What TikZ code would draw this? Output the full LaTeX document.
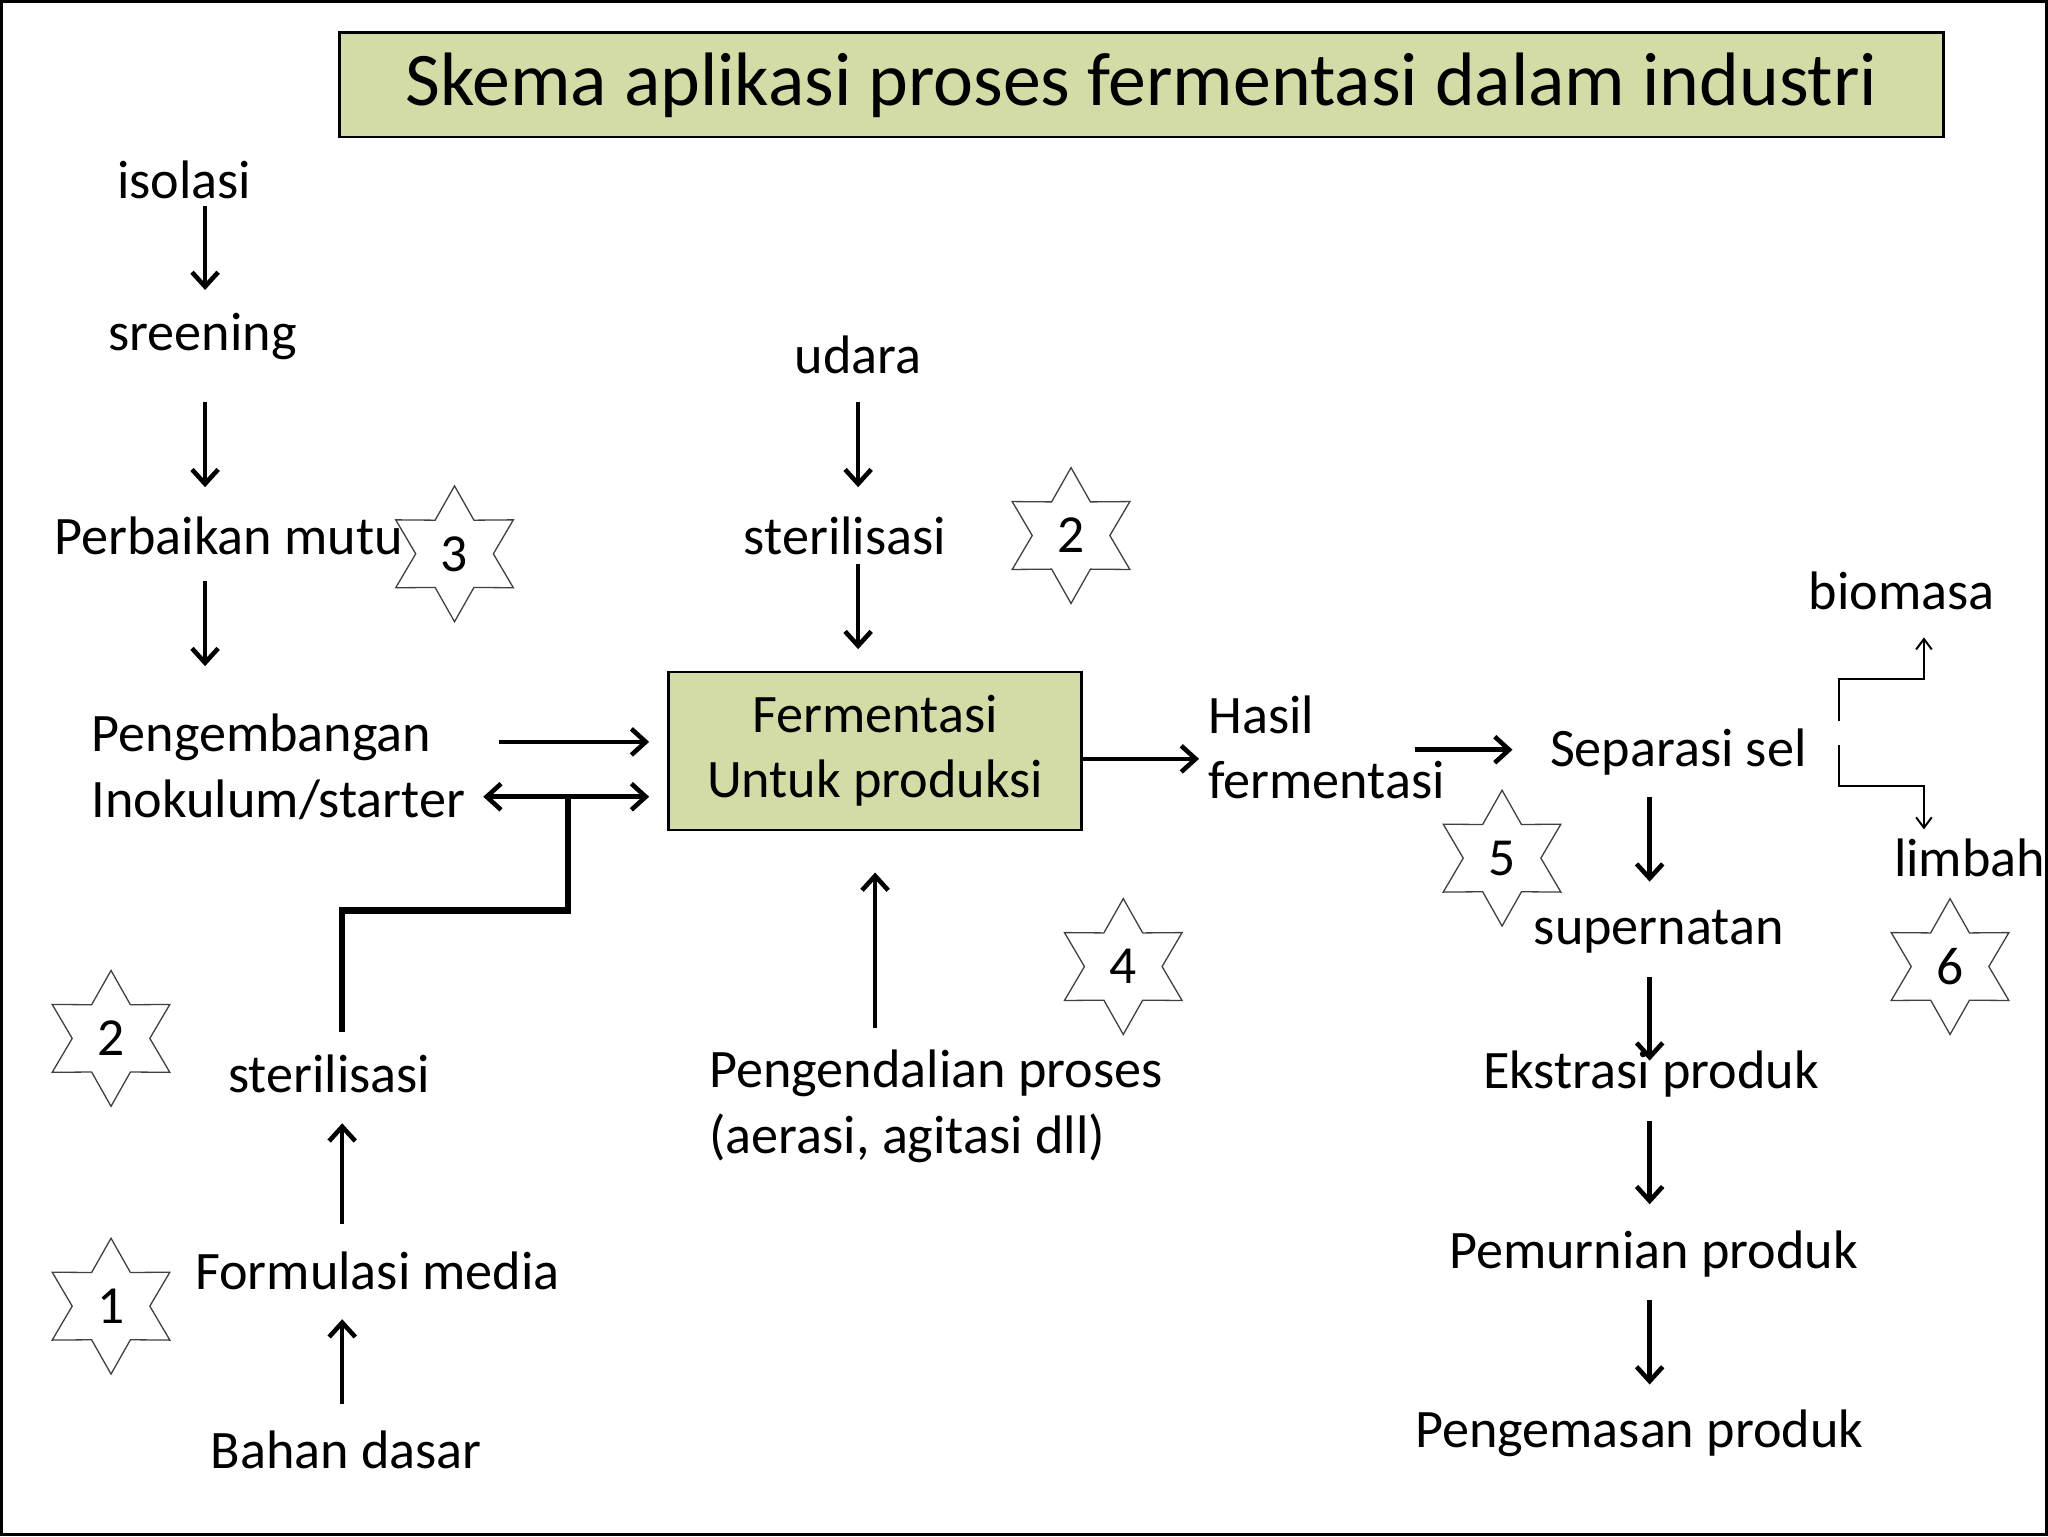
\documentclass[tikz,border=0pt]{standalone}
\usepackage{fontspec}
\setmainfont{Carlito}
\usetikzlibrary{arrows.meta,shapes.geometric}
\begin{document}
\begin{tikzpicture}[x=1pt,y=-1pt,
  lbl/.style={inner sep=0pt,font=\fontsize{41.5}{50}\selectfont},
  arr/.style={line width=3.5pt,-{Straight Barb[length=11pt,width=20pt]}},
  thin arr/.style={line width=1.5pt,-{Straight Barb[length=8pt,width=12pt]}},
  starn/.style={star,star points=6,star point ratio=1.75,minimum size=104pt,inner sep=0pt,draw=black!75,line width=1pt,font=\fontsize{41}{40}\selectfont},
  gbox/.style={draw,line width=2pt,fill=green!30!lime!20!olive!35!white}]
\useasboundingbox (0,0) rectangle (1568,1176);
\draw[line width=2pt] (1,1) rectangle (1567,1175);
\node[gbox,minimum width=1228pt,minimum height=80pt,font=\fontsize{58}{60}\selectfont] (title) at (874,65) {Skema aplikasi proses fermentasi dalam industri};
\node[lbl] (iso) at (141,138) {isolasi};
\node[lbl] (sre) at (155,258) {sreening};
\node[lbl] (perb) at (175,410) {Perbaikan mutu};
\node[lbl,align=left,anchor=west,font=\fontsize{41.5}{50}\selectfont] (peng) at (70,587) {Pengembangan\\Inokulum/starter};
\node[gbox,minimum width=316pt,minimum height=121pt,align=center,font=\fontsize{41.5}{50}\selectfont] (ferm) at (670,575) {Fermentasi\\Untuk produksi};
\node[lbl] (udara) at (657,272) {udara};
\node[lbl] (ster1) at (647,410) {sterilisasi};
\node[lbl,align=left,anchor=west] (hasil) at (925,572) {Hasil\\fermentasi};
\node[lbl] (sep) at (1285,576) {Separasi sel};
\node[lbl] (bio) at (1456,452) {biomasa};
\node[lbl] (limb) at (1508,657) {limbah};
\node[lbl] (sup) at (1270,713) {supernatan};
\node[lbl] (eks) at (1264,822) {Ekstrasi produk};
\node[lbl] (pem) at (1266,960) {Pemurnian produk};
\node[lbl] (pgm) at (1255,1097) {Pengemasan produk};
\node[lbl,align=left,anchor=west] (pk) at (543,847) {Pengendalian proses\\(aerasi, agitasi dll)};
\node[lbl] (ster2) at (252,822) {sterilisasi};
\node[lbl] (form) at (289,973) {Formulasi media};
\node[lbl] (bahan) at (265,1110) {Bahan dasar};
\node[starn] (s3) at (348,424) {3};
\node[starn] (s2a) at (820,410) {2};
\node[starn] (s5) at (1150,657) {5};
\node[starn] (s6) at (1493,740) {6};
\node[starn] (s4) at (860,740) {4};
\node[starn] (s2b) at (85,795) {2};
\node[starn] (s1) at (85,1000) {1};
\draw[arr] (157,158) -- (157,222);
\draw[arr] (157,308) -- (157,373);
\draw[arr] (157,445) -- (157,510);
\draw[arr] (382,568) -- (497,568);
\draw[line width=3.5pt,{Straight Barb[length=11pt,width=20pt]}-{Straight Barb[length=11pt,width=20pt]}] (370,610) -- (497,610);
\draw[line width=5pt] (262,790) -- (262,697) -- (435,697) -- (435,610);
\draw[arr] (657,308) -- (657,373);
\draw[arr] (657,432) -- (657,497);
\draw[arr] (ferm.east |- 0,581) -- (918,581);
\draw[arr] (1083,574) -- (1158,574);
\draw[thin arr] (1408,552) -- (1408,520) -- (1473,520) -- (1473,488);
\draw[thin arr] (1408,570) -- (1408,602) -- (1473,602) -- (1473,635);
\draw[arr] (1263,610) -- (1263,675);
\draw[arr] (1263,748) -- (1263,812);
\draw[arr] (1263,858) -- (1263,922);
\draw[arr] (1263,995) -- (1263,1060);
\draw[arr] (670,787) -- (670,668);
\draw[arr] (262,937) -- (262,860);
\draw[arr] (262,1075) -- (262,1010);
\end{tikzpicture}
\end{document}
